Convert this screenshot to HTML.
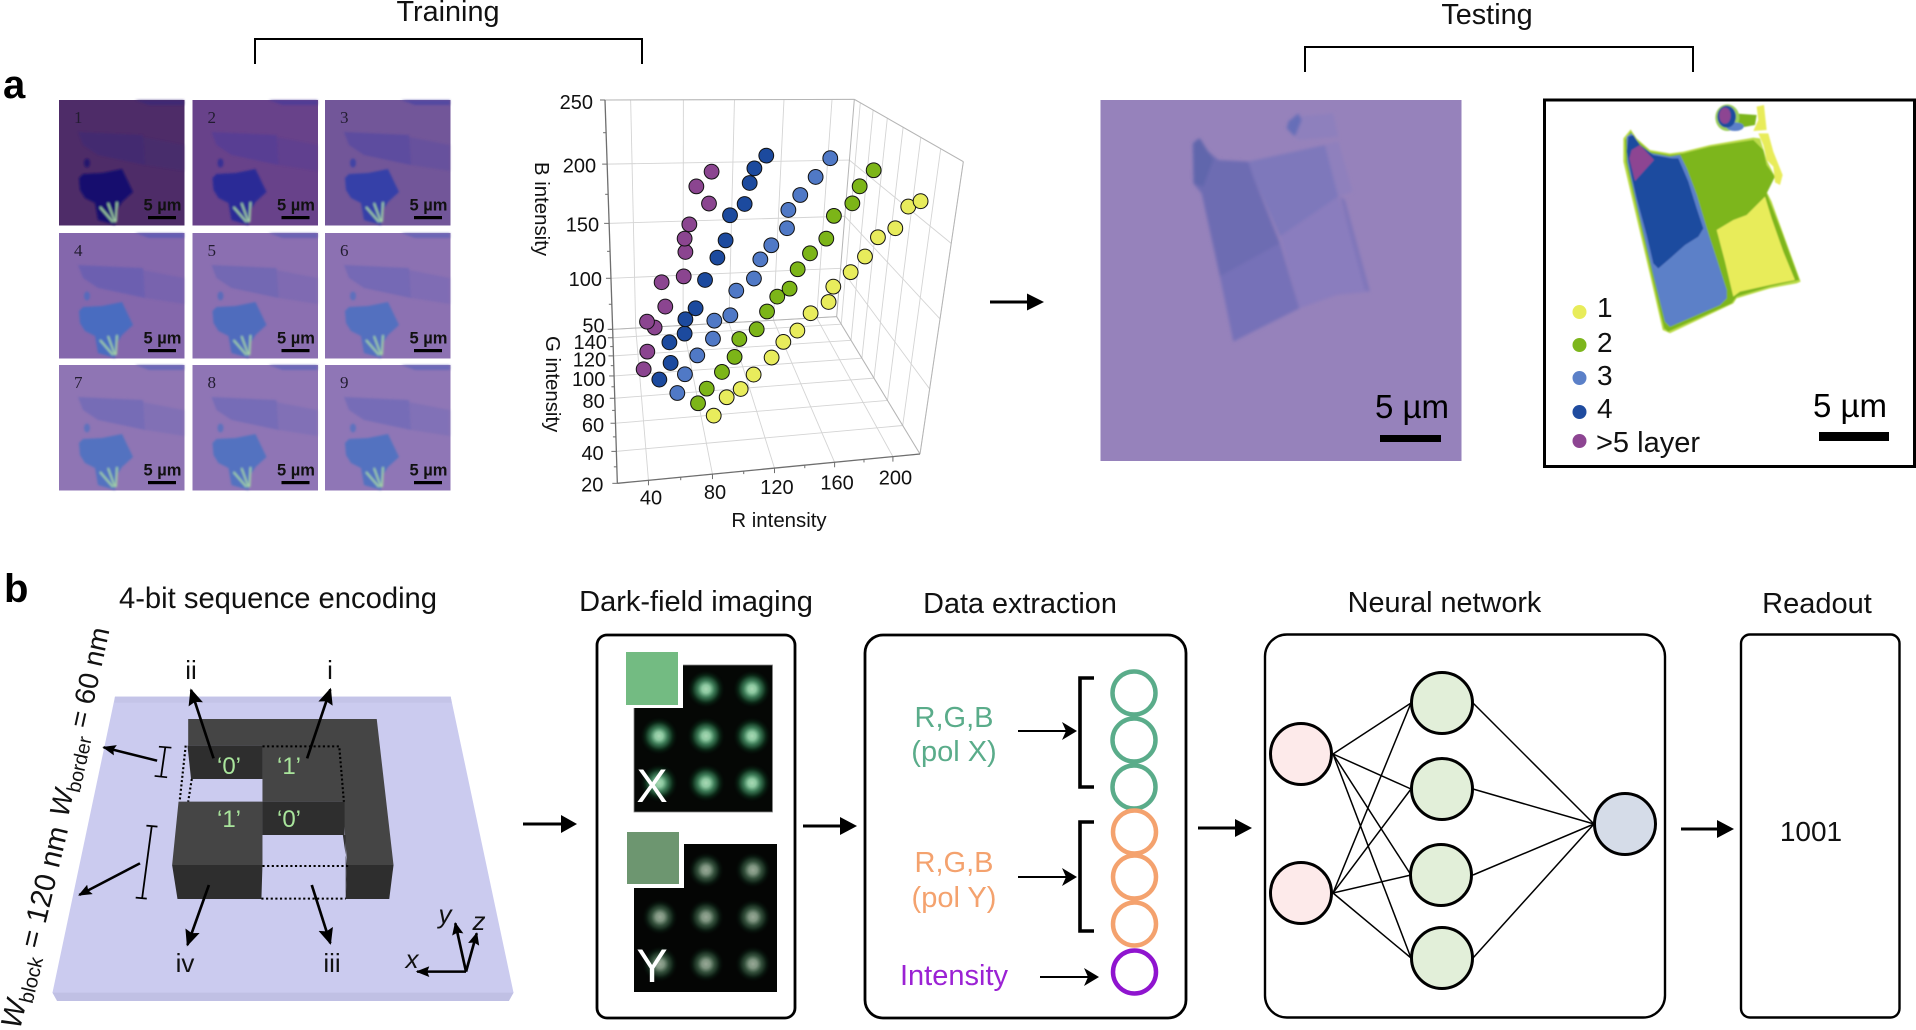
<!DOCTYPE html>
<html lang="en">
<head>
<meta charset="utf-8">
<title>Training, testing and 4-bit sequence encoding figure</title>
<style>
html,body{margin:0;padding:0;background:#fff;width:1916px;height:1030px;overflow:hidden}
svg{display:block;font-family:"Liberation Sans",Arial,sans-serif}
.ttl{font-size:28.8px;text-anchor:middle;fill:#111}
.tick{font-size:20px;fill:#111}
.axt{font-size:20.4px;fill:#111}
.rom{font-size:26px;text-anchor:middle;fill:#111}
.bit{font-size:24px;text-anchor:middle;fill:#a9e59c}
.gl{font-size:29px;text-anchor:middle}
.leg{font-size:28px;fill:#111}
.ar{stroke:#000;stroke-width:3;fill:none}
</style>
</head>
<body>
<svg id="fig" width="1916" height="1030" viewBox="0 0 1916 1030" xmlns="http://www.w3.org/2000/svg">
<defs>
<filter id="bl1" x="-10%" y="-10%" width="120%" height="120%"><feGaussianBlur stdDeviation="1"/></filter>
<filter id="bl2" x="-10%" y="-10%" width="120%" height="120%"><feGaussianBlur stdDeviation="4.5"/></filter>
<filter id="bl3" x="-5%" y="-5%" width="110%" height="110%"><feGaussianBlur stdDeviation="2"/></filter>
<radialGradient id="spotX"><stop offset="0" stop-color="#a8d8b4"/><stop offset=".2" stop-color="#8cc8a0"/><stop offset=".42" stop-color="#3c7a56"/><stop offset=".68" stop-color="#0c2a18"/><stop offset="1" stop-color="#000" stop-opacity="0"/></radialGradient>
<radialGradient id="spotY"><stop offset="0" stop-color="#98a896"/><stop offset=".22" stop-color="#7e9480"/><stop offset=".45" stop-color="#34503c"/><stop offset=".7" stop-color="#0c1c12"/><stop offset="1" stop-color="#000" stop-opacity="0"/></radialGradient>
<marker id="head" viewBox="0 0 10 10" refX="9" refY="5" markerWidth="50" markerHeight="42" markerUnits="userSpaceOnUse" orient="auto" preserveAspectRatio="none"><path d="M0 0L10 5L0 10L1.5 5Z" fill="#000"/></marker>
<marker id="headS" viewBox="0 0 10 10" refX="9" refY="5" markerWidth="38" markerHeight="32" markerUnits="userSpaceOnUse" orient="auto" preserveAspectRatio="none"><path d="M0 0L10 5L0 10L1.5 5Z" fill="#000"/></marker>
</defs>

<!-- Panel a headings -->
<text x="3" y="98" font-size="40" font-weight="bold" fill="#000">a</text>
<text x="448" y="21" class="ttl">Training</text>
<path d="M255 64V39H642V64" fill="none" stroke="#000" stroke-width="2"/>
<text x="1487" y="24" class="ttl">Testing</text>
<path d="M1305 72V47H1693V72" fill="none" stroke="#000" stroke-width="2"/>

<g id="tiles"></g>
<g id="chart"></g>

<g>
<line x1="990" y1="302" x2="1030" y2="302" class="ar"/>
<polygon points="1027,293.5 1044,302 1027,310.5" fill="#000"/>
</g>

<!-- Testing micrograph -->
<g>
<rect x="1100.5" y="100" width="361" height="361" fill="#9682bb"/>
<g transform="translate(1170 100) scale(.3333)" filter="url(#bl2)">
<polygon points="380,50 490,40 505,110 380,120" fill="#8e80bd"/>
<polygon points="385,40 395,60 375,110 350,85 355,65" fill="#666eb8"/>
<polygon points="465,135 505,125 548,275 505,290" fill="#8f80bd"/>
<polygon points="68,130 85,115 110,150 145,180 235,185 250,230 330,430 150,530 95,280 70,250" fill="#6d6cb2"/>
<polygon points="70,130 90,115 130,180 100,260 72,250" fill="#6166ac"/>
<polygon points="150,530 330,430 388,625 190,725" fill="#7671b8"/>
<polygon points="235,185 465,135 505,290 330,410 250,230" fill="#7e78bb"/>
<polygon points="330,410 505,290 600,575 500,585 388,625" fill="#8a7dbe"/>
<polygon points="510,290 525,300 600,575 585,570" fill="#7f76ba"/>
</g>
<text x="1412" y="418" font-size="33" text-anchor="middle" fill="#000">5 µm</text>
<rect x="1380" y="435" width="61" height="7" fill="#000"/>
</g>

<!-- Classified map -->
<g>
<rect x="1544.5" y="100" width="370" height="366.5" fill="#fff" stroke="#000" stroke-width="3"/>
<g transform="translate(1590 95) scale(.3333)" filter="url(#bl3)">
<polygon points="100,130 122,103 140,130 180,165 240,175 280,170 360,150 490,128 510,130 530,195 555,245 530,290 545,320 632,560 620,565 540,580 440,610 430,625 240,715 218,705 180,540 100,200" fill="#bcdc4a"/>
<polygon points="105,135 122,110 140,135 180,170 240,180 280,175 360,155 490,135 520,165 530,210 555,245 530,295 575,410 628,555 540,575 440,605 425,625 235,710 222,700 185,540 107,200" fill="#7db61c"/>
<polygon points="505,115 535,115 550,170 578,240 570,270 555,262 550,215 530,195 520,150" fill="#e8ec5a"/>
<polygon points="500,35 522,30 530,105 490,108 505,75" fill="#e8ec5a"/>
<polygon points="430,55 500,60 495,90 440,100" fill="#7db61c"/>
<polygon points="380,405 430,375 470,360 500,330 525,305 545,370 580,470 615,555 540,570 450,590 430,605 405,500" fill="#e8ec5a"/>
<polygon points="110,125 125,115 140,145 185,175 240,185 270,180 290,220 320,300 350,400 410,585 410,610 390,630 240,695 225,680 190,540 150,370 112,200" fill="#5b80c8"/>
<polygon points="115,125 130,120 150,150 190,180 245,190 265,190 295,260 320,340 340,400 325,425 285,450 240,490 205,520 190,505 170,420 140,310 125,245 110,170" fill="#1f4b9f"/>
<polygon points="125,165 150,150 192,195 135,258 118,190" fill="#8d4592"/>
<ellipse cx="412" cy="68" rx="36" ry="40" fill="#9ccf5a"/>
<ellipse cx="435" cy="95" rx="26" ry="13" fill="#5b80c8"/>
<ellipse cx="410" cy="65" rx="28" ry="33" fill="#1f4b9f"/>
<ellipse cx="405" cy="62" rx="17" ry="24" fill="#8d4592"/>
</g>
<g>
<circle cx="1579.5" cy="312" r="7" fill="#e8ec5a"/>
<text x="1597" y="317" class="leg">1</text>
<circle cx="1579.5" cy="345" r="7" fill="#7db61c"/>
<text x="1597" y="352" class="leg">2</text>
<circle cx="1579.5" cy="378" r="7" fill="#5b80c8"/>
<text x="1597" y="385" class="leg">3</text>
<circle cx="1579.5" cy="412" r="7" fill="#1f4b9f"/>
<text x="1597" y="418" class="leg">4</text>
<circle cx="1579.5" cy="441" r="7" fill="#8d4592"/>
<text x="1596" y="452" class="leg" style="font-size:29px">&gt;5 layer</text>
</g>
<text x="1850" y="417" font-size="33" text-anchor="middle" fill="#000">5 µm</text>
<rect x="1819" y="432" width="70" height="9" fill="#000"/>
</g>

<!-- Panel b -->
<text x="4" y="602" font-size="40" font-weight="bold" fill="#000">b</text>
<text x="278" y="608" class="ttl" style="font-size:29.2px">4-bit sequence encoding</text>

<g transform="translate(0 570) scale(.3571 .3333)">
<polygon points="322,380 1262,380 1438,1268 1425,1293 160,1293 147,1268" fill="#cbcbef"/>
<polygon points="322,380 1262,380 1265,398 320,398" fill="#c4c4e8"/>
<polygon points="147,1268 1438,1268 1425,1293 160,1293" fill="#c0c0e4"/>
<polygon points="527,447 1055,447 1102,885 972,885 960,695 735,695 735,527 527,527" fill="#454545"/>
<polygon points="525,527 735,527 735,627 535,627" fill="#2e2e2e"/>
<polygon points="500,695 735,695 735,885 482,885" fill="#454545"/>
<polygon points="482,885 735,885 732,987 497,987" fill="#2e2e2e"/>
<polygon points="735,695 965,695 965,795 735,795" fill="#2e2e2e"/>
<polygon points="960,795 972,885 968,987 968,795" fill="#333"/>
<polygon points="972,885 1102,885 1090,987 968,987" fill="#2e2e2e"/>
<g fill="none" stroke="#000" stroke-width="6" stroke-dasharray="6 7">
<path d="M520 527L503 695M537 627L527 695M735 529H950L963 695M735 888H975M732 986H968"/>
</g>
<g fill="none" stroke="#000" stroke-width="7.5">
<line x1="598" y1="565" x2="535" y2="360" marker-end="url(#head)"/>
<line x1="860" y1="565" x2="925" y2="358" marker-end="url(#head)"/>
<line x1="585" y1="945" x2="525" y2="1125" marker-end="url(#head)"/>
<line x1="873" y1="945" x2="925" y2="1120" marker-end="url(#head)"/>
<line x1="440" y1="572" x2="290" y2="532" marker-end="url(#headS)"/>
<line x1="392" y1="880" x2="222" y2="975" marker-end="url(#headS)"/>
<line x1="1305" y1="1205" x2="1168" y2="1205" marker-end="url(#headS)"/>
<line x1="1305" y1="1205" x2="1275" y2="1060" marker-end="url(#headS)"/>
<line x1="1305" y1="1205" x2="1335" y2="1090" marker-end="url(#headS)"/>
</g>
<path d="M445 530L480 533M463 531L451 620M433 618L468 622" fill="none" stroke="#000" stroke-width="5"/>
<path d="M410 767L441 770M425 768L398 985M380 983L411 986" fill="none" stroke="#000" stroke-width="5"/>
</g>

<text x="229" y="774" class="bit">‘0’</text>
<text x="289" y="774" class="bit">‘1’</text>
<text x="229" y="827" class="bit">‘1’</text>
<text x="289" y="827" class="bit">‘0’</text>
<text x="191" y="679" class="rom">ii</text>
<text x="330" y="679" class="rom">i</text>
<text x="185" y="972" class="rom">iv</text>
<text x="332" y="972" class="rom">iii</text>
<text x="445" y="923" font-size="26" font-style="italic" text-anchor="middle" fill="#111">y</text>
<text x="479" y="930" font-size="26" font-style="italic" text-anchor="middle" fill="#111">z</text>
<text x="412" y="968" font-size="26" font-style="italic" text-anchor="middle" fill="#111">x</text>
<text transform="translate(20 1030) rotate(-76.5)" font-size="29.5" fill="#111"><tspan font-style="italic">W</tspan><tspan font-size="20" dy="6">block</tspan><tspan dy="-6"> = 120 nm</tspan></text>
<text transform="translate(68 818) rotate(-77.5)" font-size="28" fill="#111"><tspan font-style="italic">W</tspan><tspan font-size="19.6" dy="6">border</tspan><tspan dy="-6"> = 60 nm</tspan></text>

<g><line x1="523" y1="824" x2="565" y2="824" class="ar"/><polygon points="561,815 577,824 561,833" fill="#000"/></g>

<!-- Dark-field imaging -->
<text x="696" y="611" class="ttl" style="font-size:29px">Dark-field imaging</text>
<rect x="597" y="635" width="198" height="383" rx="10" fill="#fff" stroke="#000" stroke-width="2.8"/>
<g>
<rect x="634" y="665" width="138.5" height="147" fill="#050705" stroke="#888" stroke-width=".8"/>
<g fill="url(#spotX)">
<circle cx="706" cy="689" r="20"/><circle cx="752" cy="689" r="20"/>
<circle cx="659" cy="736" r="20"/><circle cx="706" cy="736" r="20"/><circle cx="752" cy="736" r="20"/>
<circle cx="659" cy="783" r="20"/><circle cx="706" cy="783" r="20"/><circle cx="752" cy="783" r="20"/>
</g>
<rect x="622" y="648" width="61" height="60" fill="#fff"/>
<rect x="626" y="652" width="52" height="53" fill="#73bb82"/>
<text x="652" y="802" font-size="47" text-anchor="middle" fill="#fff">X</text>
</g>
<g>
<rect x="634" y="844" width="143" height="148" fill="#040504"/>
<g fill="url(#spotY)">
<circle cx="706" cy="870" r="19"/><circle cx="753" cy="870" r="19"/>
<circle cx="660" cy="917" r="19"/><circle cx="706" cy="917" r="19"/><circle cx="753" cy="917" r="19"/>
<circle cx="660" cy="964" r="19"/><circle cx="706" cy="964" r="19"/><circle cx="753" cy="964" r="19"/>
</g>
<rect x="623" y="828" width="61" height="60" fill="#fff"/>
<rect x="627" y="832" width="52" height="52" fill="#6d9670"/>
<text x="652" y="982" font-size="47" text-anchor="middle" fill="#fff">Y</text>
</g>

<g><line x1="803" y1="826" x2="843" y2="826" class="ar"/><polygon points="840,817 857,826 840,835" fill="#000"/></g>

<!-- Data extraction -->
<text x="1020" y="613" class="ttl">Data extraction</text>
<rect x="865" y="635" width="321" height="383" rx="18" fill="#fff" stroke="#000" stroke-width="2.8"/>
<text x="954" y="727" class="gl" fill="#5aac8a">R,G,B</text>
<text x="954" y="761" class="gl" fill="#5aac8a">(pol X)</text>
<text x="954" y="872" class="gl" fill="#f4a26e">R,G,B</text>
<text x="954" y="907" class="gl" fill="#f4a26e">(pol Y)</text>
<text x="954" y="985" class="gl" fill="#9b22d4">Intensity</text>
<g>
<line x1="1018" y1="731" x2="1068" y2="731" stroke="#000" stroke-width="2"/><polygon points="1062,722 1077,731 1062,740 1066,731" fill="#000"/>
<line x1="1018" y1="877" x2="1068" y2="877" stroke="#000" stroke-width="2"/><polygon points="1062,868 1077,877 1062,886 1066,877" fill="#000"/>
<line x1="1040" y1="977" x2="1090" y2="977" stroke="#000" stroke-width="2"/><polygon points="1084,968 1099,977 1084,986 1088,977" fill="#000"/>
</g>
<path d="M1094 678H1080V787H1094" fill="none" stroke="#000" stroke-width="3.6"/>
<path d="M1094 822H1080V931H1094" fill="none" stroke="#000" stroke-width="3.6"/>
<g fill="none" stroke-width="4.5">
<circle cx="1134" cy="693" r="21.5" stroke="#5aac8a"/>
<circle cx="1134" cy="740" r="21.5" stroke="#5aac8a"/>
<circle cx="1134" cy="787" r="21.5" stroke="#5aac8a"/>
<circle cx="1134.5" cy="832" r="21.5" stroke="#f4a26e"/>
<circle cx="1134.5" cy="877" r="21.5" stroke="#f4a26e"/>
<circle cx="1134.5" cy="924" r="21.5" stroke="#f4a26e"/>
<circle cx="1134.5" cy="972" r="21.5" stroke="#8f14cf"/>
</g>

<g><line x1="1198" y1="828" x2="1238" y2="828" class="ar"/><polygon points="1235,819 1252,828 1235,837" fill="#000"/></g>

<!-- Neural network -->
<text x="1444.5" y="612" class="ttl">Neural network</text>
<rect x="1265" y="634.5" width="400" height="383" rx="22" fill="#fff" stroke="#000" stroke-width="2.4"/>
<g stroke="#000" stroke-width="1.5">
<line x1="1333" y1="754" x2="1411" y2="703"/><line x1="1333" y1="754" x2="1411" y2="789"/><line x1="1333" y1="754" x2="1411" y2="875"/><line x1="1333" y1="754" x2="1411" y2="958"/>
<line x1="1333" y1="893" x2="1411" y2="703"/><line x1="1333" y1="893" x2="1411" y2="789"/><line x1="1333" y1="893" x2="1411" y2="875"/><line x1="1333" y1="893" x2="1411" y2="958"/>
<line x1="1473" y1="703" x2="1594" y2="824"/><line x1="1473" y1="789" x2="1594" y2="824"/><line x1="1473" y1="875" x2="1594" y2="824"/><line x1="1473" y1="958" x2="1594" y2="824"/>
</g>
<g stroke="#000" stroke-width="3">
<circle cx="1301" cy="754" r="30.5" fill="#fdeaea"/>
<circle cx="1301" cy="893" r="30.5" fill="#fdeaea"/>
<circle cx="1442" cy="703" r="30.5" fill="#e2efd9"/>
<circle cx="1442" cy="789" r="30.5" fill="#e2efd9"/>
<circle cx="1441" cy="875" r="30.5" fill="#e2efd9"/>
<circle cx="1442" cy="958" r="30.5" fill="#e2efd9"/>
<circle cx="1625" cy="824" r="30.5" fill="#d5dce8"/>
</g>

<g><line x1="1681" y1="829" x2="1720" y2="829" class="ar"/><polygon points="1717,820 1734,829 1717,838" fill="#000"/></g>

<!-- Readout -->
<text x="1817" y="613" class="ttl" style="font-size:29px">Readout</text>
<rect x="1741" y="634.5" width="158.5" height="383" rx="9" fill="#fff" stroke="#000" stroke-width="2.4"/>
<text x="1811" y="841" font-size="28" text-anchor="middle" fill="#111">1001</text>
</svg>

<script>
// ---- chart data ----
const rTicks = [40, 80, 120, 160, 200];
const gTicks = [20, 40, 60, 80, 100, 120, 140];
const bTicks = [50, 100, 150, 200, 250];

const layer1R = [82.4, 90.9, 100.1, 108.6, 120.4, 128.1, 137.3, 146, 157.8, 160.9, 172.3, 181.7, 190.2, 201.6, 210.1, 218.2];
const layer1G = [50, 54, 58, 62, 68, 72, 78, 84, 90, 92, 98, 104, 110, 114, 120, 122];
const layer1B = [71.7, 82.8, 84.9, 92.5, 100, 108.8, 111.6, 119.8, 122.2, 133.3, 138.6, 145.2, 155.1, 157.6, 169.6, 171.3];

const layer2R = [72.1, 77.8, 87.8, 96.1, 99.2, 110.6, 117.4, 124.1, 132.2, 137.5, 145.6, 156.3, 161.3, 173.4, 178.2, 187.4];
const layer2G = [52, 55, 60, 64, 66, 72, 76, 80, 84, 88, 92, 98, 102, 108, 112, 118];
const layer2B = [81.9, 91.1, 99.5, 107.7, 121.1, 122.2, 133, 141.3, 143.3, 155.7, 164.7, 170.3, 185.7, 189.2, 199.6, 206.6];

const layer3R = [58.5, 63.5, 71.6, 81.9, 82.8, 93.3, 97.2, 108.8, 113, 120.2, 130.5, 131.4, 139.2, 149.3, 158.9];
const layer3G = [45, 48, 52, 58, 60, 64, 68, 72, 76, 80, 85, 88, 92, 98, 104];
const layer3B = [99.7, 112.6, 124.2, 131.6, 145.4, 144.8, 162, 167.2, 179.6, 187.1, 195.8, 208.8, 217, 225.6, 234.9];

const layer4R = [46.7, 54.1, 53.3, 63.3, 63.8, 70.5, 76.7, 84.8, 90.2, 93.1, 102.7, 106, 109.1, 116.9];
const layer4G = [45, 48, 50, 54, 56, 60, 64, 68, 72, 75, 80, 84, 90, 98];
const layer4B = [113.1, 123.8, 140.1, 142.5, 153.1, 157.9, 178.1, 192.8, 203.3, 222.1, 225.8, 239.9, 246.4, 248.6];

const layer5R = [36.4, 38.8, 43.6, 38.6, 50.6, 48.2, 62.7, 63.8, 63.3, 66.4, 79.3, 71, 81];
const layer5G = [50, 54, 58, 60, 64, 68, 72, 76, 80, 84, 90, 96, 104];
const layer5B = [118.5, 129.8, 146.4, 150.2, 158, 175.8, 175.1, 192.5, 200.3, 208.5, 219.2, 229.4, 233.1];

const tileBackground = ['#4e2c68', '#68428a', '#725699', '#8467ac', '#8b6fb1', '#8c71b2', '#8f75b4', '#8f75b5', '#8f76b6'];
const tileFlake = ['#15106e', '#2a2c96', '#3540a8', '#4a6cc0', '#4f6cbd', '#5270bf', '#5272c0', '#5272c0', '#5272c0'];
const tileBand = ['#3a2a78', '#4a3a9a', '#4a44a4', '#5a5ab4', '#5f60b4', '#6062b6', '#6064b8', '#6064b8', '#6064b8'];

// ---- helpers ----
const NS = 'http://www.w3.org/2000/svg';
function mk(parent, tag, attrs, text) {
  const el = document.createElementNS(NS, tag);
  for (const k in attrs) el.setAttribute(k, attrs[k]);
  if (text !== undefined) el.textContent = text;
  parent.appendChild(el);
  return el;
}

// ---- micrograph tiles ----
const tileLayer = document.getElementById('tiles');
const tileColX = [59, 192.5, 325];
const tileRowY = [100, 233, 365];
tileBackground.forEach(function (bg, i) {
  const g = mk(tileLayer, 'g', { transform: 'translate(' + tileColX[i % 3] + ' ' + tileRowY[Math.floor(i / 3)] + ')' });
  
  
  const back = mk(g, 'rect', { width: 125.5, height: 125.5, fill: bg });
  
  
  const art = mk(g, 'g', { filter: 'url(#bl1)' });
  
  
  mk(art, 'polygon', { points: '76,0 125,0 125,5 90,5', fill: tileBand[i], opacity: 0.75 });
  mk(art, 'polygon', { points: '19,32 84,35 86,65 39,55 24,45', fill: tileBand[i], opacity: 0.55 });
  mk(art, 'polygon', { points: '84,37 125,45 125,71 86,65', fill: tileBand[i], opacity: 0.28 });
  mk(art, 'ellipse', { cx: 28, cy: 63, rx: 3, ry: 4.5, fill: tileFlake[i], opacity: 0.8 });
  mk(art, 'polygon', { points: '20,78 24,74 43,73 63,69 74,92 63,102 58,110 56,125 39,120 36,103 26,98 21,90', fill: tileFlake[i] });
  mk(art, 'path', { d: 'M41 107L54 122M49 103L56 122M58 102L57 122', stroke: '#a4d4a4', 'stroke-width': 1.8, fill: 'none' });
  const num = mk(g, 'text', { x: 15, y: 23, 'font-size': 17, 'font-family': '"Liberation Serif",serif', fill: '#221c30' }, String(i + 1));
  
  
  const sl = mk(g, 'text', { x: 103.5, y: 110.5, 'font-size': 16.5, 'font-weight': 'bold', 'text-anchor': 'middle', fill: '#111' }, '5 µm');
  
  
  const bar = mk(g, 'rect', { x: 89, y: 116, width: 28, height: 3.2, fill: '#000' });
  
  
});

// ---- 3D chart: axis functions ----
function warp(t, a) { return a * t / (1 + (a - 1) * t); }
function rAxis(R) { return warp((R - 21) / 198, 1.08); }
function gAxis(G) { return warp((G - 20) / 130, 1.44); }
function bAxis(B) { return warp((B - 50) / 200, 0.859); }
const cube = {
  c000: [262, 1180], c100: [1170, 1092], c010: [248, 718], c110: [920, 680],
  c001: [230, 228], c101: [1300, 215], c011: [225, 30], c111: [973, 28]
};
function cubePoint(r, g, b) {
  const out = [0, 0];
  for (const ax of [0, 1]) {
    const l00 = cube.c000[ax] * (1 - r) + cube.c100[ax] * r;
    const l10 = cube.c010[ax] * (1 - r) + cube.c110[ax] * r;
    const l01 = cube.c001[ax] * (1 - r) + cube.c101[ax] * r;
    const l11 = cube.c011[ax] * (1 - r) + cube.c111[ax] * r;
    const low = l00 * (1 - g) + l10 * g;
    const high = l01 * (1 - g) + l11 * g;
    out[ax] = low * (1 - b) + high * b;
  }
  return [530 + out[0] / 3, 90 + out[1] / 3];
}
function dotX(R) { return 530 + (266 + 4.57 * (R - 20)) / 3; }
function dotY(R, G, B) { return 90 + (1180 - 0.44 * (R - 20) - 3.4 * (G - 20) - 3.4 * (B - 50)) / 3; }

const chart = document.getElementById('chart');
function seg(parent, a, b, stroke, width) {
  return mk(parent, 'line', { x1: a[0], y1: a[1], x2: b[0], y2: b[1], stroke: stroke, 'stroke-width': width });
}

const grid = mk(chart, 'g', {});


rTicks.forEach(function (v) {
  const r = rAxis(v);
  seg(grid, cubePoint(r, 0, 0), cubePoint(r, 1, 0), '#d4d4d4', 0.9);
  seg(grid, cubePoint(r, 1, 0), cubePoint(r, 1, 1), '#d4d4d4', 0.9);
});
gTicks.forEach(function (v) {
  const g = gAxis(v);
  seg(grid, cubePoint(0, g, 0), cubePoint(1, g, 0), '#d4d4d4', 0.9);
  seg(grid, cubePoint(1, g, 0), cubePoint(1, g, 1), '#d4d4d4', 0.9);
});
bTicks.forEach(function (v) {
  const b = bAxis(v);
  seg(grid, cubePoint(0, 1, b), cubePoint(1, 1, b), '#d4d4d4', 0.9);
  seg(grid, cubePoint(1, 1, b), cubePoint(1, 0, b), '#d4d4d4', 0.9);
});

const frame = mk(chart, 'g', {});


seg(frame, cubePoint(0, 1, 1), cubePoint(1, 1, 1), '#b5b5b5', 1);
seg(frame, cubePoint(1, 1, 1), cubePoint(1, 0, 1), '#b5b5b5', 1);
seg(frame, cubePoint(1, 0, 1), cubePoint(1, 0, 0), '#b5b5b5', 1);
seg(frame, cubePoint(1, 1, 0), cubePoint(1, 1, 1), '#b5b5b5', 1);
seg(frame, cubePoint(1, 1, 0), cubePoint(1, 0, 0), '#b5b5b5', 1);
seg(frame, cubePoint(0, 1, 0), cubePoint(1, 1, 0), '#b5b5b5', 1);

const axes = mk(chart, 'g', {});


seg(axes, cubePoint(0, 1, 1), cubePoint(0, 1, 0), '#6e6e6e', 1.3);
seg(axes, cubePoint(0, 1, 0), cubePoint(0, 0, 0), '#6e6e6e', 1.3);
seg(axes, cubePoint(0, 0, 0), cubePoint(1, 0, 0), '#6e6e6e', 1.3);

rTicks.forEach(function (v) {
  const p = cubePoint(rAxis(v), 0, 0);
  seg(axes, p, [p[0], p[1] + 5], '#6e6e6e', 1);
  const q = cubePoint(rAxis(v + 20), 0, 0);
  if (v < 200) seg(axes, q, [q[0], q[1] + 3], '#6e6e6e', 1);
  const t = (v - 40) / 160;
  const lab = mk(chart, 'text', { x: p[0] + 2.5, y: p[1] + 24 + 4 * t, class: 'tick', 'text-anchor': 'middle' }, String(v));
  
  
});
gTicks.forEach(function (v) {
  const p = cubePoint(0, gAxis(v), 0);
  seg(axes, p, [p[0] - 5, p[1]], '#6e6e6e', 1);
  const q = cubePoint(0, gAxis(v + 10), 0);
  seg(axes, q, [q[0] - 3, q[1]], '#6e6e6e', 1);
  const t = (v - 20) / 120;
  const lab = mk(chart, 'text', { x: p[0] - 14 + 8 * t, y: p[1] + 8 + 3 * t, class: 'tick', 'text-anchor': 'end' }, String(v));
  
  
});
bTicks.forEach(function (v) {
  const p = cubePoint(0, 1, bAxis(v));
  seg(axes, p, [p[0] - 5, p[1]], '#6e6e6e', 1);
  if (v < 250) {
    const q = cubePoint(0, 1, bAxis(v + 25));
    seg(axes, q, [q[0] - 3, q[1]], '#6e6e6e', 1);
  }
  const t = (v - 50) / 200;
  const lab = mk(chart, 'text', { x: p[0] - 8 - 4 * t, y: p[1] + (v === 50 ? 3 : 7 + 2 * t), class: 'tick', 'text-anchor': 'end' }, String(v));
  
  
});

const bTitle = mk(chart, 'text', { transform: 'translate(535 162) rotate(90)', class: 'axt' }, 'B intensity');


const gTitle = mk(chart, 'text', { transform: 'translate(546 336) rotate(90)', class: 'axt' }, 'G intensity');


const rTitle = mk(chart, 'text', { x: 779, y: 527, class: 'axt', 'text-anchor': 'middle' }, 'R intensity');



function drawSeries(name, color, Rs, Gs, Bs) {
  const g = mk(chart, 'g', {});
  
  
  Rs.forEach(function (R, i) {
    const c = mk(g, 'circle', { cx: dotX(R), cy: dotY(R, Gs[i], Bs[i]), r: 7.4, fill: color, stroke: '#111', 'stroke-width': 1 });
    
    
  });
}
drawSeries('series-layer-5', '#8b4590', layer5R, layer5G, layer5B);
drawSeries('series-layer-4', '#1c4a9e', layer4R, layer4G, layer4B);
drawSeries('series-layer-3', '#5079c6', layer3R, layer3G, layer3B);
drawSeries('series-layer-2', '#7cb518', layer2R, layer2G, layer2B);
drawSeries('series-layer-1', '#e8ec5c', layer1R, layer1G, layer1B);
</script>
</body>
</html>
